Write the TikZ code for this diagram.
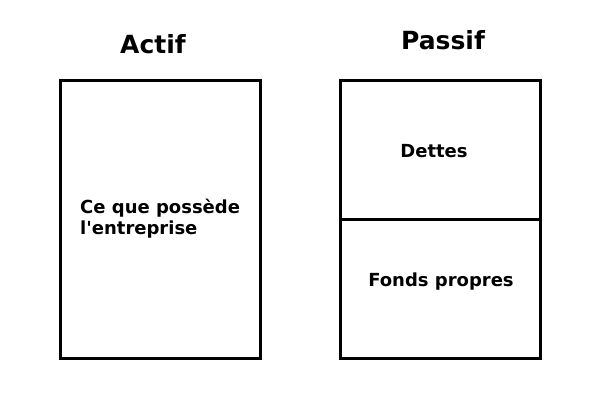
\documentclass[tikz,border=0pt]{standalone}
\usepackage{fontspec}
\setmainfont{DejaVu Sans}
\begin{document}
\begin{tikzpicture}[x=1pt,y=-1pt,
  box/.style={draw=black,line width=3pt},
  title/.style={font=\fontsize{25}{30}\selectfont\bfseries,inner sep=0pt,anchor=base},
  lbl/.style={font=\fontsize{18}{21}\selectfont\bfseries,inner sep=0pt}]
\useasboundingbox (0,0) rectangle (600,400);
\draw[box] (60,80) rectangle (260,358);
\draw[box] (340,80) rectangle (540,358);
\coordinate (divL) at (340,219);
\coordinate (divR) at (540,219);
\draw[box] (divL) -- (divR);
\node[title] (actif) at (153,53) {Actif};
\node[title] (passif) at (443,49) {Passif};
\node[lbl,anchor=base west,align=left] (possede) at (80,234) {Ce que possède\\l\textquotesingle entreprise};
\node[lbl,anchor=base] (dettes) at (434,157) {Dettes};
\node[lbl,anchor=base] (fonds) at (441,286) {Fonds propres};
\end{tikzpicture}
\end{document}
